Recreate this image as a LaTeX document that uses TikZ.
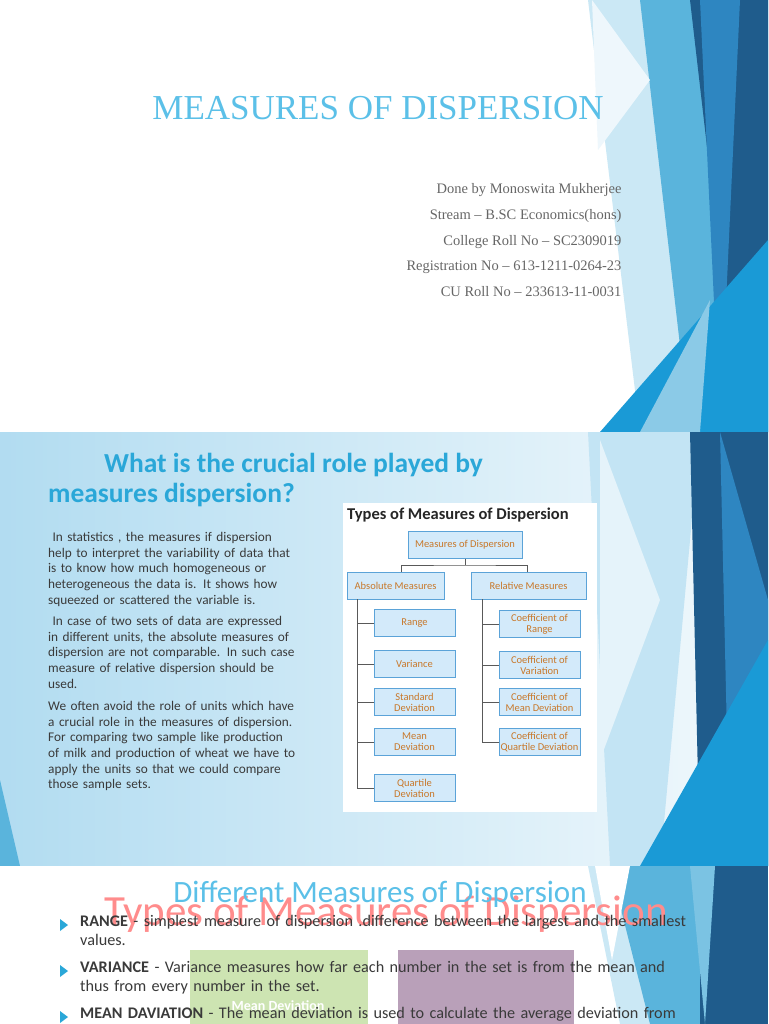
\documentclass[tikz,border=0pt]{standalone}
\usepackage{fontspec}
\setmainfont{Liberation Serif}
\newfontfamily\bodyf{Carlito}
\usetikzlibrary{positioning}
\definecolor{ttl}{HTML}{5BC0E8}
\definecolor{hd}{HTML}{2AA7D8}
\definecolor{dkb}{HTML}{1F5C8C}
\definecolor{mdb}{HTML}{2E86C1}
\definecolor{ltb}{HTML}{5AB4DC}
\definecolor{cyb}{HTML}{1A9AD6}
\definecolor{pal}{HTML}{A9D8EF}
\definecolor{bxf}{HTML}{D3EAFA}
\definecolor{bxd}{HTML}{5BA3D8}
\definecolor{org}{HTML}{C8782A}
\definecolor{txt}{HTML}{3A3A3A}
\tikzset{
 bx/.style={draw=bxd,fill=bxf,line width=0.8pt,minimum height=27pt,align=center,font=\bodyf\fontsize{10.5}{11}\selectfont,text=org,inner sep=0pt},
 cn/.style={draw=gray!70!black,line width=0.8pt},
 info/.style={anchor=east,font=\fontsize{14.5}{16}\selectfont,text=gray!80!black},
 body/.style={anchor=north west,align=left,font=\bodyf\fontsize{13.3}{15.7}\selectfont,execute at begin node={\hyphenpenalty=10000\relax},text=txt,text width=252pt,inner sep=0},
 bul/.style={anchor=north west,align=left,font=\bodyf\fontsize{16.2}{19}\selectfont,execute at begin node={\hyphenpenalty=10000\relax},text=txt,text width=618pt,inner sep=0}
}
\begin{document}
\begin{tikzpicture}[x=1pt,y=-1pt]
\useasboundingbox (0,0) rectangle (768,1024);
% slide 1
\fill[white] (0,0) rectangle (768,432);
\fill[pal!60] (588,0) -- (700,0) -- (700,432) -- (640,432) -- cycle;
\fill[ltb] (640,0) -- (768,0) -- (768,432) -- (690,432) -- cycle;
\fill[dkb] (690,0) -- (768,0) -- (768,432) -- (740,432) -- cycle;
\fill[mdb] (700,0) -- (740,0) -- (720,432) -- cycle;
\fill[white!80!pal] (592,0) -- (650,80) -- (598,150) -- cycle;
\fill[cyb] (600,432) -- (768,240) -- (768,432) -- cycle;
\fill[ltb!70] (640,432) -- (710,300) -- (700,432) -- cycle;
\node (t1) at (378,108) {\fontsize{35}{38}\selectfont\color{ttl}MEASURES OF DISPERSION};
\node[info] (i1) at (625,190) {Done by Monoswita Mukherjee};
\node[info] (i2) at (625,216) {Stream – B.SC Economics(hons)};
\node[info] (i3) at (625,242) {College Roll No – SC2309019};
\node[info] (i4) at (625,267) {Registration No – 613-1211-0264-23};
\node[info] (i5) at (625,292) {CU Roll No – 233613-11-0031};
% slide 2
\shade[left color=pal!90, right color=white!85!pal] (0,432) rectangle (768,866);
\fill[pal!70] (588,432) -- (700,432) -- (660,866) -- (610,866) -- cycle;
\fill[dkb] (690,432) -- (768,432) -- (768,866) -- (700,866) -- cycle;
\fill[mdb] (720,432) -- (768,600) -- (768,866) -- (730,866) -- cycle;
\fill[cyb] (640,866) -- (768,640) -- (768,866) -- cycle;
\fill[white!70!pal] (600,440) -- (660,600) -- (600,760) -- cycle;
\fill[ltb] (0,780) -- (20,866) -- (0,866) -- cycle;
\node[anchor=west,font=\bodyf\bfseries\fontsize{27.5}{30}\selectfont,text=hd,inner sep=0] (h1) at (104,465) {What is the crucial role played by};
\node[anchor=west,font=\bodyf\bfseries\fontsize{27.5}{30}\selectfont,text=hd,inner sep=0] (h2) at (48,495) {measures dispersion?};
\node[body] (p1) at (48,532) {~In statistics , the measures if dispersion help to interpret the variability of data that is to know how much homogeneous or heterogeneous the data is. It shows how squeezed or scattered the variable is.};
\node[body] (p2) at (48,616) {~In case of two sets of data are expressed in different units, the absolute measures of dispersion are not comparable. In such case measure of relative dispersion should be used.};
\node[body] (p3) at (48,701) {We often avoid the role of units which have a crucial role in the measures of dispersion. For comparing two sample like production of milk and production of wheat we have to apply the units so that we could compare those sample sets.};
% chart
\fill[white] (343,503) rectangle (597,812);
\node[anchor=west,font=\bodyf\bfseries\fontsize{16.5}{18}\selectfont,text=black!85,inner sep=0] (ct) at (347,515) {Types of Measures of Dispersion};
\node[bx,minimum width=114pt] (top) at (465,545) {Measures of Dispersion};
\node[bx,minimum width=97pt] (abs) at (395.5,585.5) {Absolute Measures};
\node[bx,minimum width=115pt] (rel) at (528.5,585.5) {Relative Measures};
\foreach \n/\y/\t in {a1/623/Range,a2/664/Variance,a3/702/Standard\\Deviation,a4/742/Mean\\Deviation,a5/788/Quartile\\Deviation}
 \node[bx,minimum width=81pt] (\n) at (414.5,\y) {\t};
\foreach \n/\y/\t in {r1/624/Coefficient of\\Range,r2/665/Coefficient of\\Variation,r3/702/Coefficient of\\Mean Deviation,r4/742/Coefficient of\\Quartile Deviation}
 \node[bx,minimum width=81pt] (\n) at (539.5,\y) {\t};
\coordinate (tj) at (465,565);
\draw[cn] (top.south) -- (tj);
\draw[cn] (abs.north -| 401,0) |- (tj) -| (rel.north -| 527,0);
\draw[cn] (abs.south -| 357,0) |- (a5.west);
\foreach \n in {a1,a2,a3,a4} \draw[cn] (357,0 |- \n.west) -- (\n.west);
\draw[cn] (rel.south -| 482,0) |- (r4.west);
\foreach \n in {r1,r2,r3} \draw[cn] (482,0 |- \n.west) -- (\n.west);
% slide 3
\fill[white] (0,866) rectangle (768,1024);
\fill[pal!60] (588,866) -- (700,866) -- (720,1024) -- (620,1024) -- cycle;
\fill[ltb] (610,866) -- (700,866) -- (700,1024) -- (650,1024) -- cycle;
\fill[dkb] (700,866) -- (768,866) -- (768,1024) -- (700,1024) -- cycle;
\fill[ltb!80] (690,866) -- (715,866) -- (705,1024) -- cycle;
\fill[white] (595,866) -- (630,866) -- (612,960) -- cycle;
\fill[green!30!olive!30] (190,950) rectangle (368,1024);
\fill[violet!35!gray!55] (398,950) rectangle (574,1024);
\node[text=white,font=\bodyf\bfseries\fontsize{14}{16}\selectfont] (mdw) at (278,1006) {Mean Deviation};
\node[text=red!45,font=\bodyf\fontsize{43}{45}\selectfont] (wm) at (386,914) {Types of Measures of Dispersion};
\node[text=ttl,font=\bodyf\fontsize{31}{33}\selectfont] (t3) at (380,894) {Different Measures of Dispersion};
\foreach \y in {925,971,1017} \fill[hd] (60,\y-6) -- (68,\y) -- (60,\y+6) -- cycle;
\node[bul] (b1) at (80,915) {\textbf{RANGE} - simplest measure of dispersion .difference between the largest and the smallest values.};
\node[bul] (b2) at (80,961) {\textbf{VARIANCE} - Variance measures how far each number in the set is from the mean and thus from every number in the set.};
\node[bul] (b3) at (80,1007) {\textbf{MEAN DAVIATION} - The mean deviation is used to calculate the average deviation from};
\end{tikzpicture}
\end{document}
